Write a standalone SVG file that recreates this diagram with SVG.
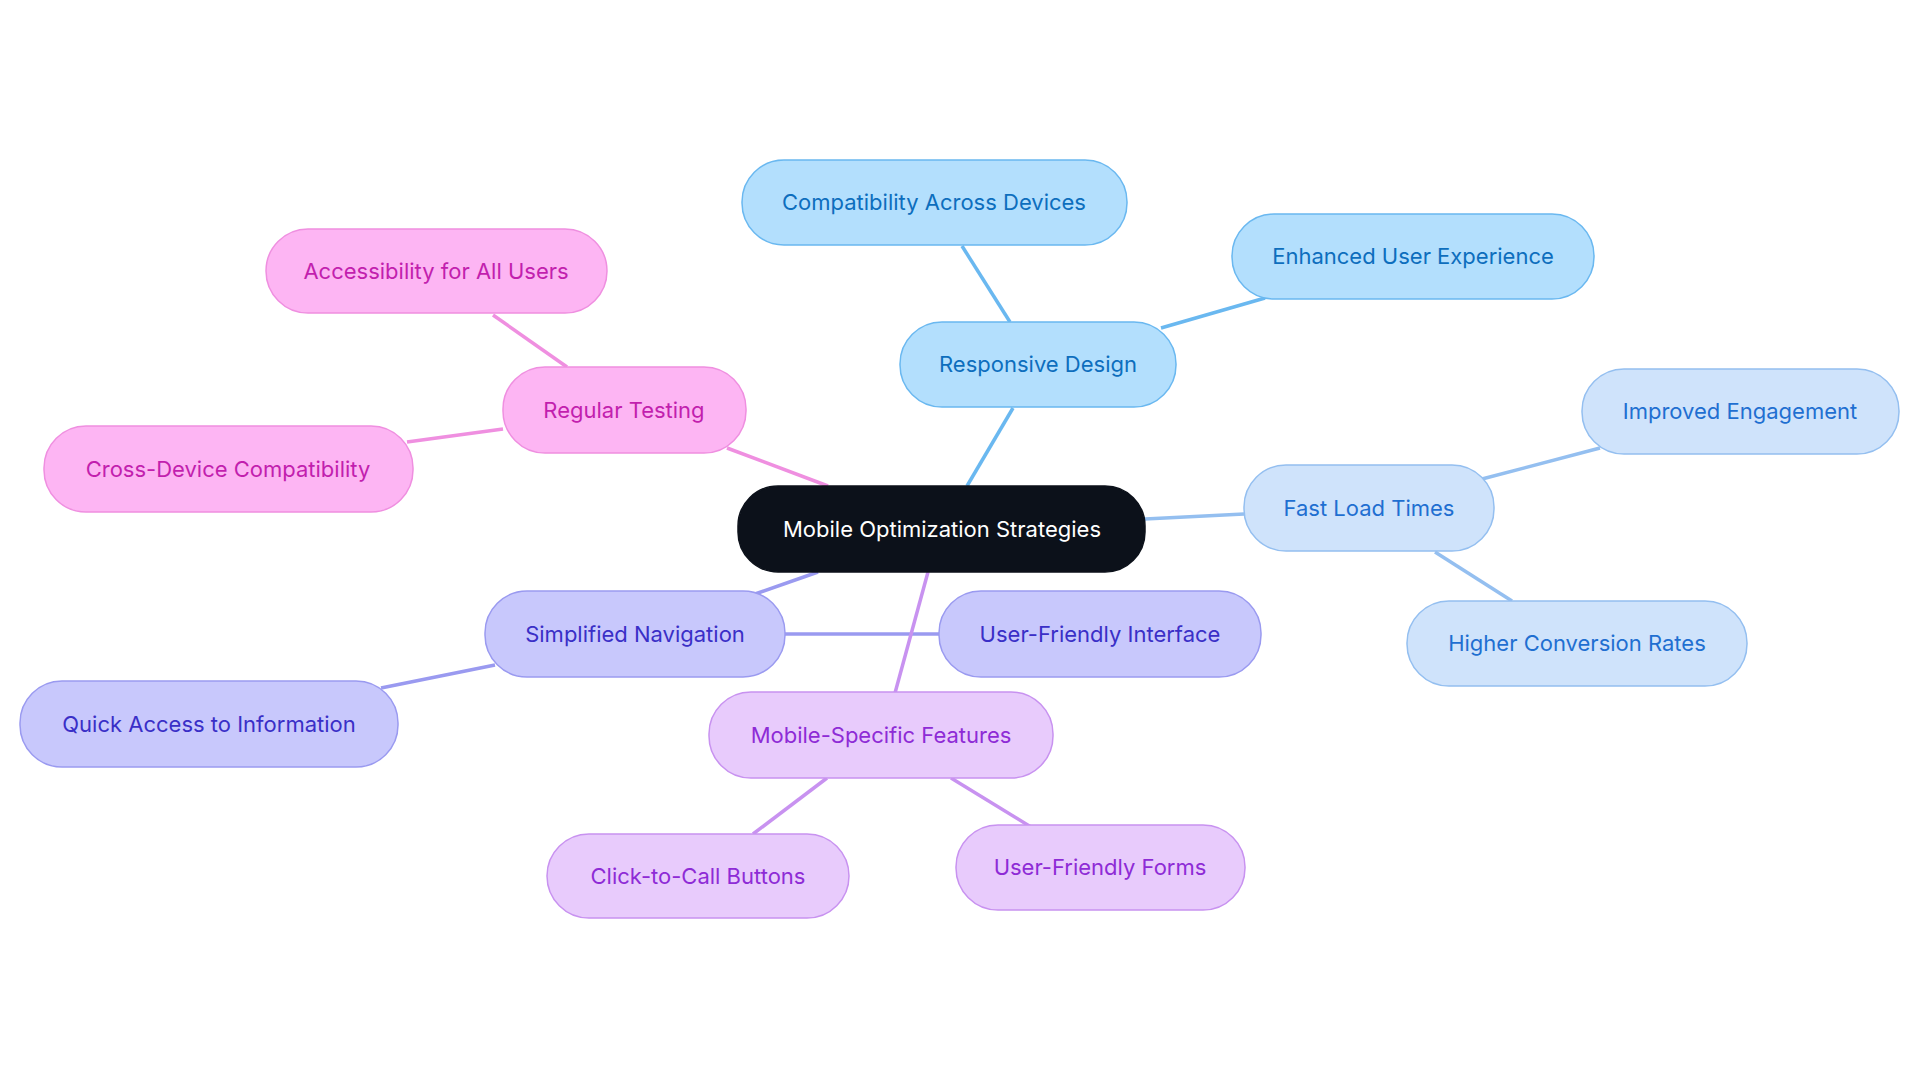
<svg xmlns="http://www.w3.org/2000/svg" width="1920" height="1083" viewBox="0 0 1920 1083">
<style>
text{font-family:Inter,"Noto Sans","Liberation Sans",sans-serif;font-size:22px;text-anchor:middle;dominant-baseline:central}
rect{stroke-width:1.5}
.c line{stroke-width:3.5;fill:none}
.b rect{fill:#b3dffd;stroke:#6ab8f0}.b text{fill:#0d6ebd}
.l rect{fill:#cfe3fb;stroke:#94bff0}.l text{fill:#1f6fd1}
.p rect{fill:#fdb5f3;stroke:#ef8fe0}.p text{fill:#c21fae}
.i rect{fill:#c8c8fc;stroke:#9a9af0}.i text{fill:#3a2fc7}
.u rect{fill:#e8cbfc;stroke:#c892f0}.u text{fill:#8e2bd6}
</style>
<rect width="1920" height="1083" fill="#fff"/>
<g id="connectors" class="c">
<line x1="967" y1="486" x2="1013" y2="408" stroke="#6ab8f0"/>
<line x1="1010" y1="322" x2="962" y2="246" stroke="#6ab8f0"/>
<line x1="1161" y1="328" x2="1265" y2="298" stroke="#6ab8f0"/>
<line x1="1145" y1="519" x2="1244" y2="514" stroke="#94bff0"/>
<line x1="1482" y1="479" x2="1600" y2="448" stroke="#94bff0"/>
<line x1="1435" y1="552" x2="1512" y2="601" stroke="#94bff0"/>
<line x1="828" y1="486" x2="727" y2="448" stroke="#ef8fe0"/>
<line x1="567" y1="367" x2="493" y2="315" stroke="#ef8fe0"/>
<line x1="503" y1="429" x2="407" y2="442" stroke="#ef8fe0"/>
<line x1="818" y1="572" x2="755" y2="594" stroke="#9a9af0"/>
<line x1="785" y1="634" x2="939" y2="634" stroke="#9a9af0"/>
<line x1="495" y1="665" x2="381" y2="688" stroke="#9a9af0"/>
<line x1="928" y1="572" x2="895" y2="693" stroke="#c892f0"/>
<line x1="827" y1="778" x2="753" y2="834" stroke="#c892f0"/>
<line x1="951" y1="778" x2="1031" y2="827" stroke="#c892f0"/>
</g>
<g id="center"><rect x="738" y="486" width="407" height="86" rx="40" fill="#0c111a" stroke="#0c111a"/><text x="942" y="529" fill="#fff">Mobile Optimization Strategies</text></g>
<g id="n1" class="b"><rect x="900" y="322" width="276" height="85" rx="42"/><text x="1038" y="364">Responsive Design</text></g>
<g id="n2" class="b"><rect x="742" y="160" width="385" height="85" rx="42"/><text x="934" y="202">Compatibility Across Devices</text></g>
<g id="n3" class="b"><rect x="1232" y="214" width="362" height="85" rx="42"/><text x="1413" y="256">Enhanced User Experience</text></g>
<g id="n4" class="l"><rect x="1244" y="465" width="250" height="86" rx="42"/><text x="1369" y="508">Fast Load Times</text></g>
<g id="n5" class="l"><rect x="1582" y="369" width="317" height="85" rx="42"/><text x="1740" y="411">Improved Engagement</text></g>
<g id="n6" class="l"><rect x="1407" y="601" width="340" height="85" rx="42"/><text x="1577" y="643">Higher Conversion Rates</text></g>
<g id="n7" class="p"><rect x="503" y="367" width="243" height="86" rx="42"/><text x="624" y="410">Regular Testing</text></g>
<g id="n8" class="p"><rect x="266" y="229" width="341" height="84" rx="42"/><text x="436" y="271">Accessibility for All Users</text></g>
<g id="n9" class="p"><rect x="44" y="426" width="369" height="86" rx="42"/><text x="228" y="469">Cross-Device Compatibility</text></g>
<g id="n10" class="i"><rect x="485" y="591" width="300" height="86" rx="42"/><text x="635" y="634">Simplified Navigation</text></g>
<g id="n11" class="i"><rect x="939" y="591" width="322" height="86" rx="42"/><text x="1100" y="634">User-Friendly Interface</text></g>
<g id="n12" class="i"><rect x="20" y="681" width="378" height="86" rx="42"/><text x="209" y="724">Quick Access to Information</text></g>
<g id="n13" class="u"><rect x="709" y="692" width="344" height="86" rx="42"/><text x="881" y="735">Mobile-Specific Features</text></g>
<g id="n14" class="u"><rect x="547" y="834" width="302" height="84" rx="42"/><text x="698" y="876">Click-to-Call Buttons</text></g>
<g id="n15" class="u"><rect x="956" y="825" width="289" height="85" rx="42"/><text x="1100" y="867">User-Friendly Forms</text></g>
</svg>
